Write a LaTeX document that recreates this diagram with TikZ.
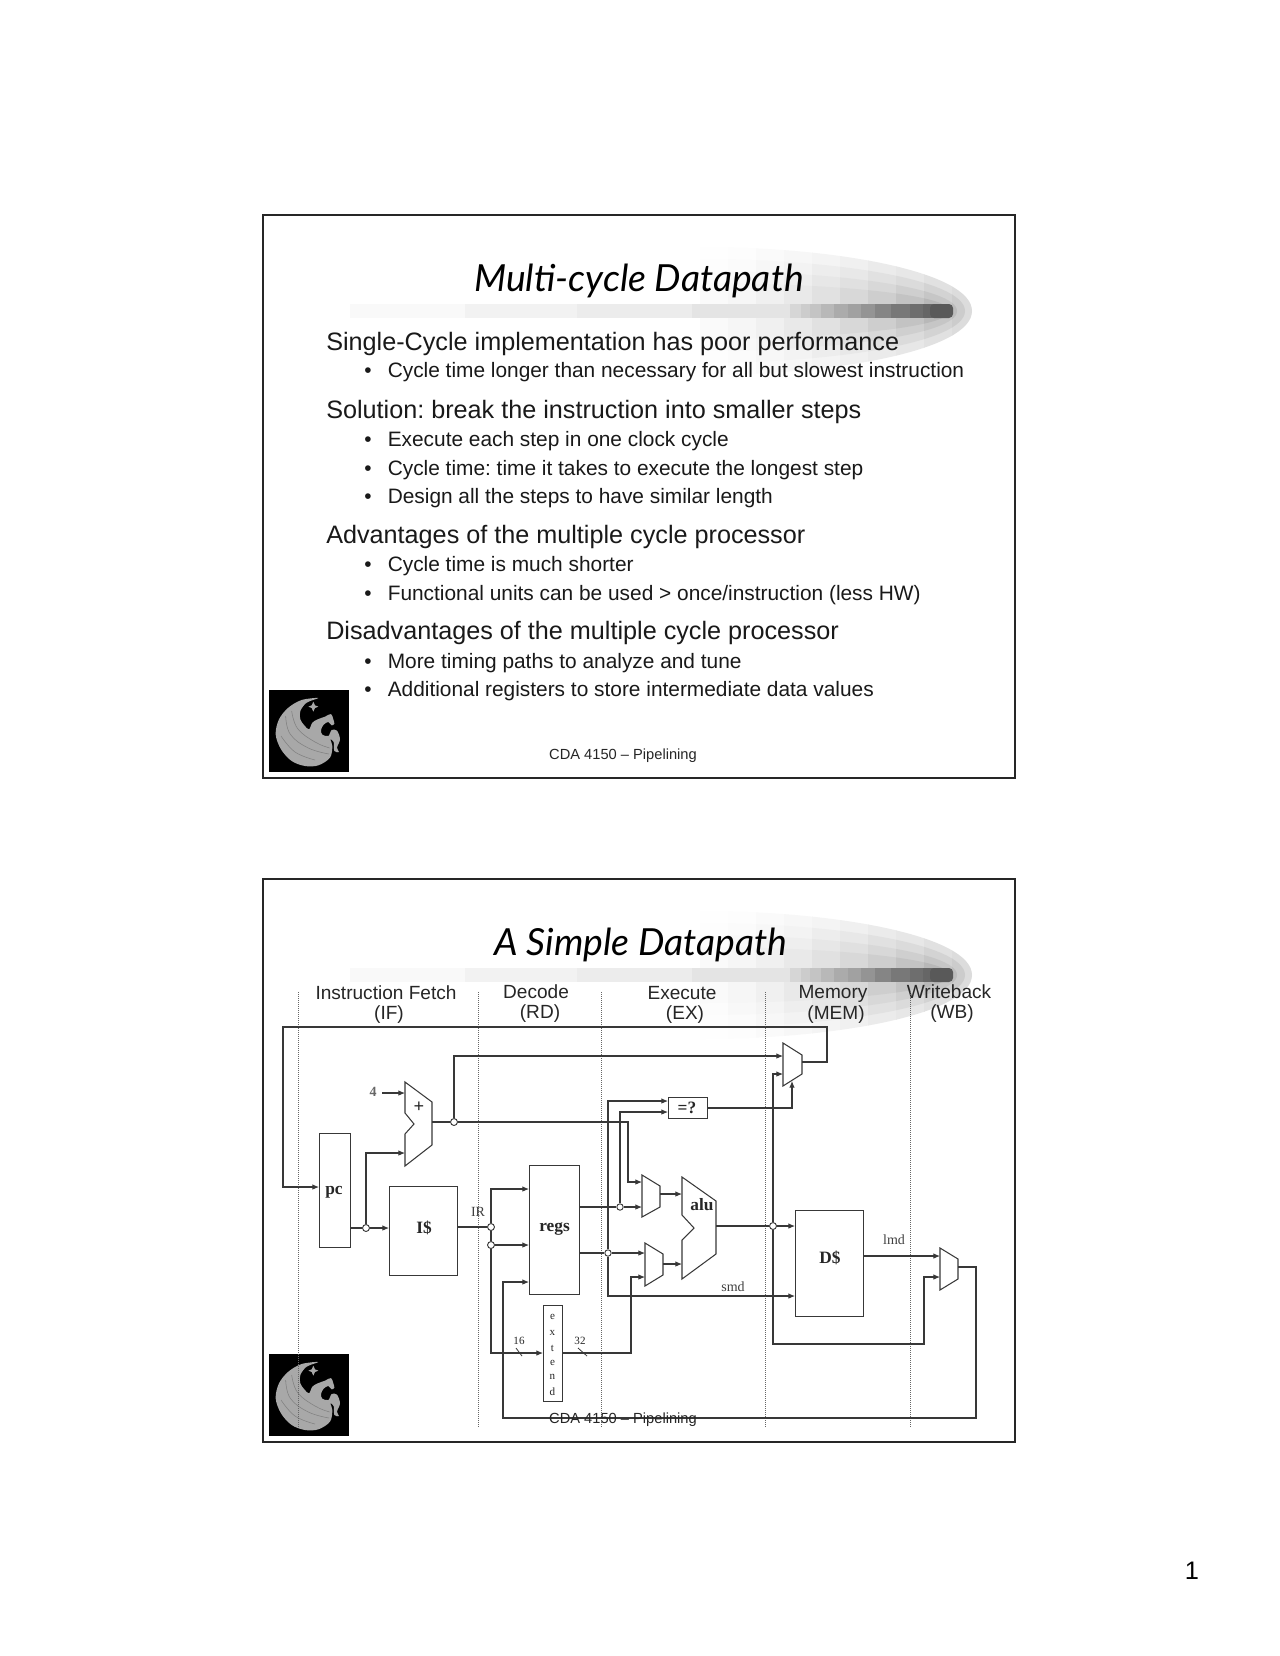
\documentclass[tikz,border=0pt]{standalone}
\usepackage{fontspec}
\setmainfont{Liberation Sans}
\newfontfamily\diagf{Liberation Serif}
\newfontfamily\titlef{Lato}
\usetikzlibrary{arrows.meta,shapes.geometric}
\definecolor{ln}{gray}{0.22}
\definecolor{logog}{gray}{0.66}
\newcommand{\swoosh}{%
 \foreach \i/\H/\T in {0/64/972,1/52/965,2/40/957,3/28/950}{%
  \begin{scope}
   \pgfmathsetmacro\ya{311-\H}\pgfmathsetmacro\yb{311+\H}
   \pgfmathsetmacro\ca{311-0.6*\H}\pgfmathsetmacro\cb{311+0.6*\H}
   \pgfmathsetmacro\cx{700+(\T-700)*0.515}
   \clip (700,\ya) .. controls (\cx,\ya) and (\T,\ca) .. (\T,311) .. controls (\T,\cb) and (\cx,\yb) .. (700,\yb) -- cycle;
   \foreach \x in {700,728,...,980}{%
    \pgfmathsetmacro\w{1-0.005*\i-pow((\x+14-700)/270,1.5)*(0.14+0.06*\i)}
    \definecolor{sw}{gray}{\w}
    \fill[sw] (\x,240) rectangle (\x+28.5,380);
   }
  \end{scope}
 }
 \foreach \a/\b/\g in {350/465/.975,465/577/.95,577/692/.925,692/790/.895,790/801/.84,801/810/.8,810/821/.77,821/834/.72,834/848/.67,848/861/.63,861/875/.58,875/891/.52,891/910/.47,910/923/.43,923/937/.4}{%
  \definecolor{sw}{gray}{\g}
  \fill[sw] (\a,304) rectangle (\b+.5,318);
 }
 \definecolor{sw}{gray}{.35}
 \fill[sw,rounded corners=3pt] (930,304) rectangle (953,318);
 \fill[sw] (937,304) rectangle (945,318);
}
\newcommand{\logo}{%
 \fill[black] (269,690) rectangle (349,772);
 \begin{scope}[shift={(265,686)},x=.25pt,y=-.25pt]
  \fill[logog] plot[smooth cycle,tension=.55] coordinates {(160,36) (125,50) (106,75) (106,100) (118,118) (132,130) (142,110) (158,100) (180,92) (198,84) (205,100) (208,113) (200,118) (190,108) (176,116) (168,132) (172,146) (190,150) (200,132) (216,134) (225,160) (216,185) (222,198) (208,195) (206,168) (196,160) (202,180) (195,215) (160,238) (120,240) (80,225) (48,190) (32,145) (42,100) (70,65) (110,42)};
  \fill[logog] (145,47) -- (150,58) -- (160,62) -- (150,66) -- (145,77) -- (140,66) -- (130,62) -- (140,58) -- cycle;
  \draw[black!50,line width=.4pt] plot[smooth,tension=.7] coordinates {(62,90) (76,145) (130,186) (192,204)};
  \draw[black!50,line width=.4pt] plot[smooth,tension=.7] coordinates {(80,75) (98,128) (150,168) (194,186)};
  \draw[black!50,line width=.4pt] plot[smooth,tension=.7] coordinates {(48,150) (90,198) (150,222)};
 \end{scope}
}
\tikzset{
 x=.75pt,y=-.75pt,
 >={Latex[length=5pt,width=4.2pt]},
 hd/.style={anchor=base west,inner sep=0pt,font=\fontsize{18.9}{24}\selectfont,text=black!90},
 sb/.style={anchor=base west,inner sep=0pt,font=\fontsize{15.65}{19}\selectfont,text=black!90},
 bl/.style={anchor=base west,inner sep=0pt,font=\fontsize{15.6}{19}\selectfont,text=black!90},
 foot/.style={inner sep=0pt,font=\fontsize{11}{13}\selectfont,text=black!85},
 ttl/.style={inner sep=0pt,font=\fontsize{28}{32}\titlef\itshape},
 frame/.style={draw=black!85,line width=1.5pt,fill=none},
 stage/.style={inner sep=0pt,font=\fontsize{14.3}{18}\selectfont,text=black!85},
 wire/.style={draw=ln,line width=.78pt},
 arr/.style={wire,->},
 stagesep/.style={draw=black!60,line width=.5pt,densely dotted},
 blk/.style={draw=ln,line width=.78pt,fill=none,inner sep=0pt},
 mx/.style={draw=ln,line width=.78pt,fill=white,line join=miter},
 junc/.style={circle,draw=ln,line width=.7pt,fill=white,inner sep=0pt,minimum size=5.2pt},
 smalllab/.style={inner sep=0pt,font=\fontsize{10.5}{12}\diagf,text=black!75},
 tiny/.style={inner sep=0pt,font=\fontsize{8.3}{10}\diagf,text=black!85},
 bname/.style={inner sep=0pt,font=\fontsize{13}{15}\diagf\bfseries,text=black!85},
}
\begin{document}
\frenchspacing
\begin{tikzpicture}
\useasboundingbox (0,0) rectangle (1280,1656);
\fill[white] (0,0) rectangle (1280,1656);
% ---------- slide 1
\begin{scope}\swoosh\end{scope}
\draw[frame] (263,214.5) rectangle (1015,777.5);
\node[ttl] (t1) at (639,281) {Multi-cycle Datapath};
\node[hd] (h1) at (326,350.5) {Single-Cycle implementation has poor performance};
\node[bl] (b1) at (364,377) {•}; \node[sb] (s1) at (387.5,377) {Cycle time longer than necessary for all but slowest instruction};
\node[hd] (h2) at (326,418) {Solution: break the instruction into smaller steps};
\node[bl] (b2) at (364,446) {•}; \node[sb] (s2) at (387.5,446) {Execute each step in one clock cycle};
\node[bl] (b3) at (364,475) {•}; \node[sb] (s3) at (387.5,475) {Cycle time: time it takes to execute the longest step};
\node[bl] (b4) at (364,503) {•}; \node[sb] (s4) at (387.5,503) {Design all the steps to have similar length};
\node[hd] (h3) at (326,543) {Advantages of the multiple cycle processor};
\node[bl] (b5) at (364,571) {•}; \node[sb] (s5) at (387.5,571) {Cycle time is much shorter};
\node[bl] (b6) at (364,600) {•}; \node[sb] (s6) at (387.5,600) {Functional units can be used > once/instruction (less HW)};
\node[hd] (h4) at (326,639) {Disadvantages of the multiple cycle processor};
\node[bl] (b7) at (364,668) {•}; \node[sb] (s7) at (387.5,668) {More timing paths to analyze and tune};
\node[bl] (b8) at (364,696.5) {•}; \node[sb] (s8) at (387.5,696.5) {Additional registers to store intermediate data values};
\logo
\node[foot] (f1) at (623,756) {CDA 4150 – Pipelining};
% ---------- slide 2
\begin{scope}[shift={(0,664)}]\swoosh\logo\end{scope}
\draw[frame] (263,878.5) rectangle (1015,1441.5);
\node[ttl] (t2) at (641,945) {A Simple Datapath};
\node[stage] at (386,993) {Instruction Fetch};
\node[stage] at (389,1014.5) {(IF)};
\node[stage] at (536,992) {Decode};
\node[stage] at (540,1013.5) {(RD)};
\node[stage] at (682,993) {Execute};
\node[stage] at (685,1014.5) {(EX)};
\node[stage] at (833,994) {Memory};
\node[stage] at (836,1014.5) {(MEM)};
\node[stage] at (949,992) {Writeback};
\node[stage] at (952,1013.5) {(WB)};
% stage separators
\foreach \n/\xx in {a/298,b/478.7,c/601,d/765,e/910}{
 \coordinate (st\n t) at (\xx,992);
 \coordinate (st\n b) at (\xx,1427);
 \draw[stagesep] (st\n t) -- (st\n b);
}
% blocks
\node[blk,anchor=north west,minimum width=23.25pt,minimum height=85.5pt] (pc) at (319,1133) {};
\node[bname] (pcl) at (334,1192) {pc};
\node[blk,anchor=north west,minimum width=51pt,minimum height=66.75pt] (ic) at (389,1186) {};
\node[bname] (icl) at (424,1228) {I\$};
\node[blk,anchor=north west,minimum width=37.5pt,minimum height=96.75pt] (regs) at (529,1165) {};
\node[bname] (regsl) at (554.5,1229) {regs};
\node[blk,anchor=north west,minimum width=51pt,minimum height=79.5pt] (dc) at (795,1210) {};
\node[bname] (dcl) at (830,1258) {D\$};
\node[blk,anchor=north west,minimum width=29.25pt,minimum height=15.75pt] (eq) at (668,1097) {};
\node[bname] (eql) at (687,1108) {=?};
\node[blk,anchor=north west,minimum width=14.25pt,minimum height=72pt] (ext) at (543,1305) {};
\foreach \ch/\yy in {e/1317,x/1333,t/1348,e/1363,n/1377,d/1392}{
 \node[tiny] at (552.5,\yy) {\ch};
}
% muxes and ALUs
\draw[mx] (405,1082) -- (432,1102) -- (432,1145) -- (405,1166) -- (405,1134) -- (414,1124) -- (405,1113) -- cycle;
\node[bname,font=\fontsize{14}{15}\diagf\bfseries] (plus) at (419,1107) {+};
\draw[mx] (783,1043) -- (802,1055) -- (802,1074) -- (783,1086) -- cycle;
\draw[mx] (642,1175) -- (660,1186) -- (660,1207) -- (642,1217) -- cycle;
\draw[mx] (645,1243) -- (663,1254) -- (663,1275) -- (645,1286) -- cycle;
\draw[mx] (682,1177) -- (716,1201) -- (716,1254) -- (682,1279) -- (682,1240) -- (694,1228) -- (682,1215) -- cycle;
\node[bname] (alulab) at (702,1205) {alu};
\draw[mx] (940,1248) -- (958,1259) -- (958,1279) -- (940,1290) -- cycle;
% pins
\coordinate (addA) at (405,1093);
\coordinate (addB) at (405,1153);
\coordinate (addO) at (432,1122);
\coordinate (pmA) at (783,1056);
\coordinate (pmB) at (783,1074);
\coordinate (pmS) at (792,1081);
\coordinate (pmO) at (802,1062);
\coordinate (maA) at (642,1182);
\coordinate (maB) at (642,1207);
\coordinate (maO) at (660,1194);
\coordinate (mbA) at (645,1253);
\coordinate (mbB) at (645,1277);
\coordinate (mbO) at (663,1264);
\coordinate (aluA) at (682,1194);
\coordinate (aluB) at (682,1264);
\coordinate (aluO) at (716,1226);
\coordinate (wbA) at (940,1256);
\coordinate (wbB) at (940,1277);
\coordinate (wbO) at (958,1267);
\coordinate (fourO) at (382,1093);
\node[smalllab,font=\fontsize{10.5}{12}\diagf\bfseries,text=black!60] (four) at (373,1092) {4};
% wires
\coordinate (nxl) at (283,1027);
\coordinate (nxr) at (827,1027);
\node[junc] (j1) at (366,1228) {};
\node[junc] (j2) at (454,1122) {};
\node[junc] (j3) at (491,1227) {};
\node[junc] (j4) at (491,1245) {};
\node[junc,minimum size=4.8pt] (j5) at (620,1207) {};
\node[junc,minimum size=4.8pt] (j6) at (608,1253) {};
\node[junc] (j7) at (773,1226) {};
\draw[arr] (pmO) -| (nxr) -- (nxl) |- (pc.west |- 0,1187);
\draw[wire] (pc.east |- j1) -- (j1);
\draw[arr] (j1) -- (ic.west |- j1);
\draw[arr] (j1) |- (addB);
\draw[arr] (fourO) -- (addA);
\draw[wire] (addO) -- (j2);
\draw[arr] (j2) |- (pmA);
\coordinate (sumc) at (628,1122);
\draw[arr] (j2) -- (sumc) |- (maA);
\draw[line width=1.3pt,draw=ln] (542,1056) -- (550,1056);
\draw[wire] (ic.east |- j3) -- (j3);
\draw[arr] (j3) |- (regs.west |- 0,1189);
\draw[wire] (j3) -- (j4);
\draw[arr] (j4) -- (regs.west |- j4);
\draw[arr] (j4) |- (ext.west |- 0,1353);
\draw[wire] (regs.east |- j5) -- (j5);
\draw[arr] (j5) -- (maB);
\draw[wire] (regs.east |- j6) -- (j6);
\draw[arr] (j6) -- (mbA);
\draw[arr] (j5) |- (eq.west |- 0,1112);
\draw[arr] (j6) |- (eq.west |- 0,1101);
\draw[arr] (j6) |- (dc.west |- 0,1296);
\draw[arr] (maO) -- (aluA);
\draw[arr] (mbO) -- (aluB);
\draw[wire] (aluO) -- (j7);
\draw[arr] (j7) -- (dc.west |- j7);
\draw[arr] (j7) |- (pmB);
\coordinate (wbl) at (924,1344);
\draw[arr] (j7) |- (wbl) |- (wbB);
\draw[arr] (dc.east |- wbA) -- (wbA);
\draw[arr] (ext.east |- 0,1353) -| (631,1277) -- (mbB);
\draw[arr] (eq.east |- 0,1108) -| (pmS);
\coordinate (wbr) at (976,1418);
\coordinate (wbd) at (503,1418);
\draw[arr] (wbO) -| (wbr) -- (wbd) |- (regs.west |- 0,1282);
% bus marks
\coordinate (sAa) at (516,1348); \coordinate (sAb) at (522,1356);
\coordinate (sBa) at (578,1348); \coordinate (sBb) at (587,1356);
\draw[wire,line width=.6pt] (sAa) -- (sAb);
\draw[wire,line width=.6pt] (sBa) -- (sBb);
\node[tiny] (n16) at (519,1341) {16};
\node[tiny] (n32) at (580,1341) {32};
\node[smalllab] (irl) at (478,1212) {IR};
\node[smalllab] (smd) at (733,1287) {smd};
\node[smalllab] (lmd) at (894,1240) {lmd};
\node[foot] (f2) at (623,1420) {CDA 4150 – Pipelining};
\node[inner sep=0pt,font=\fontsize{19}{22}\selectfont] (pg) at (1192,1571) {1};
\end{tikzpicture}
\end{document}
